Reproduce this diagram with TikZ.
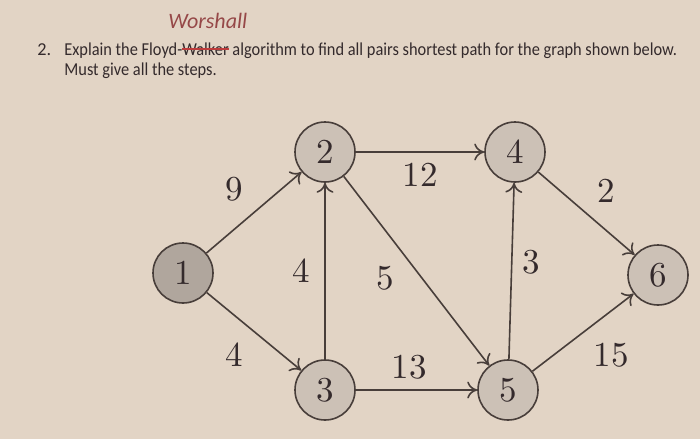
\documentclass[tikz,border=0pt]{standalone}
\usepackage{fontspec}
\newfontfamily\headfont{Carlito}
\newfontface\numfont{lmroman10-regular.otf}
\usetikzlibrary{shapes, arrows, arrows.meta}
\definecolor{paper}{RGB}{226,212,197}
\definecolor{nodefill}{RGB}{204,193,182}
\definecolor{darkfill}{RGB}{176,166,157}
\definecolor{edgeink}{RGB}{72,62,58}
\definecolor{textink}{RGB}{52,42,44}
\definecolor{penink}{RGB}{150,72,72}
\definecolor{strikered}{RGB}{190,60,60}
\newcommand\crossout[1]{\setbox0\hbox{#1}\rlap{\copy0}\textcolor{strikered}{\rule[0.3em]{\wd0}{0.9pt}}}
\newcommand\narrow[1]{\scalebox{0.9}[1]{#1}}
\tikzstyle{vertex} =
        [
                circle,
                draw = edgeink,
                fill = nodefill,
                text = textink,
                minimum size = 30pt,
                inner sep = 0pt,
                line width = 0.8pt,
                font = \numfont\fontsize{17.5}{17.5}\selectfont
        ]
\tikzstyle{line} =
        [
                draw = edgeink,
                line width = 0.8pt,
                -{To[length = 5pt, width = 8.5pt]}
        ]
\tikzstyle{weight} =
        [
                text = textink,
                inner sep = 5pt,
                font = \numfont\fontsize{17.5}{17.5}\selectfont
        ]
\tikzstyle{header} =
        [
                anchor = base west,
                inner sep = 0pt,
                text = textink,
                font = \headfont\fontsize{9.1}{11}\selectfont
        ]

\begin{document}
\begin{tikzpicture}[x = 0.5pt, y = 0.5pt, auto]
        \fill [paper] (0,0) rectangle (700,-439);
        \useasboundingbox (0,0) rectangle (700,-439);

        \node [header, text = penink, font = \headfont\itshape\fontsize{11}{11}\selectfont] (pen) at (168,-28) {Worshall};
        \node [header] (num) at (37,-55) {2.};
        \node [header] (task) at (64,-55) {\narrow{Explain the Floyd-\crossout{Walker} algorithm to find all pairs shortest path for the graph shown below.}};
        \node [header] (steps) at (64,-75) {\narrow{Must give all the steps.}};

        \node [vertex, fill = darkfill] (one) at (183,-273) {1};
        \node [vertex] (two) at (325,-152) {2};
        \node [vertex, below of = two, node distance = 119pt] (three) {3};
        \node [vertex, right of = two, node distance = 95pt] (four) {4};
        \node [vertex, right of = three, node distance = 91.5pt] (five) {5};
        \node [vertex] (six) at (658,-275) {6};

        \path [line] (one) -- node [weight] {9} (two);
        \path [line] (one) -- node [weight, swap] {4} (three);
        \path [line] (two) -- node [weight, swap] {12} (four);
        \path [line] (three) -- node [weight, inner sep = 7pt] {4} (two);
        \path [line] (two) -- node [weight, swap, pos = 0.42] {5} (five);
        \path [line] (three) -- node [weight, pos = 0.44] {13} (five);
        \path [line] (five) -- node [weight, swap, pos = 0.55] {3} (four);
        \path [line] (four) -- node [weight] {2} (six);
        \path [line] (five) -- node [weight, swap] {15} (six);
\end{tikzpicture}
\end{document}
